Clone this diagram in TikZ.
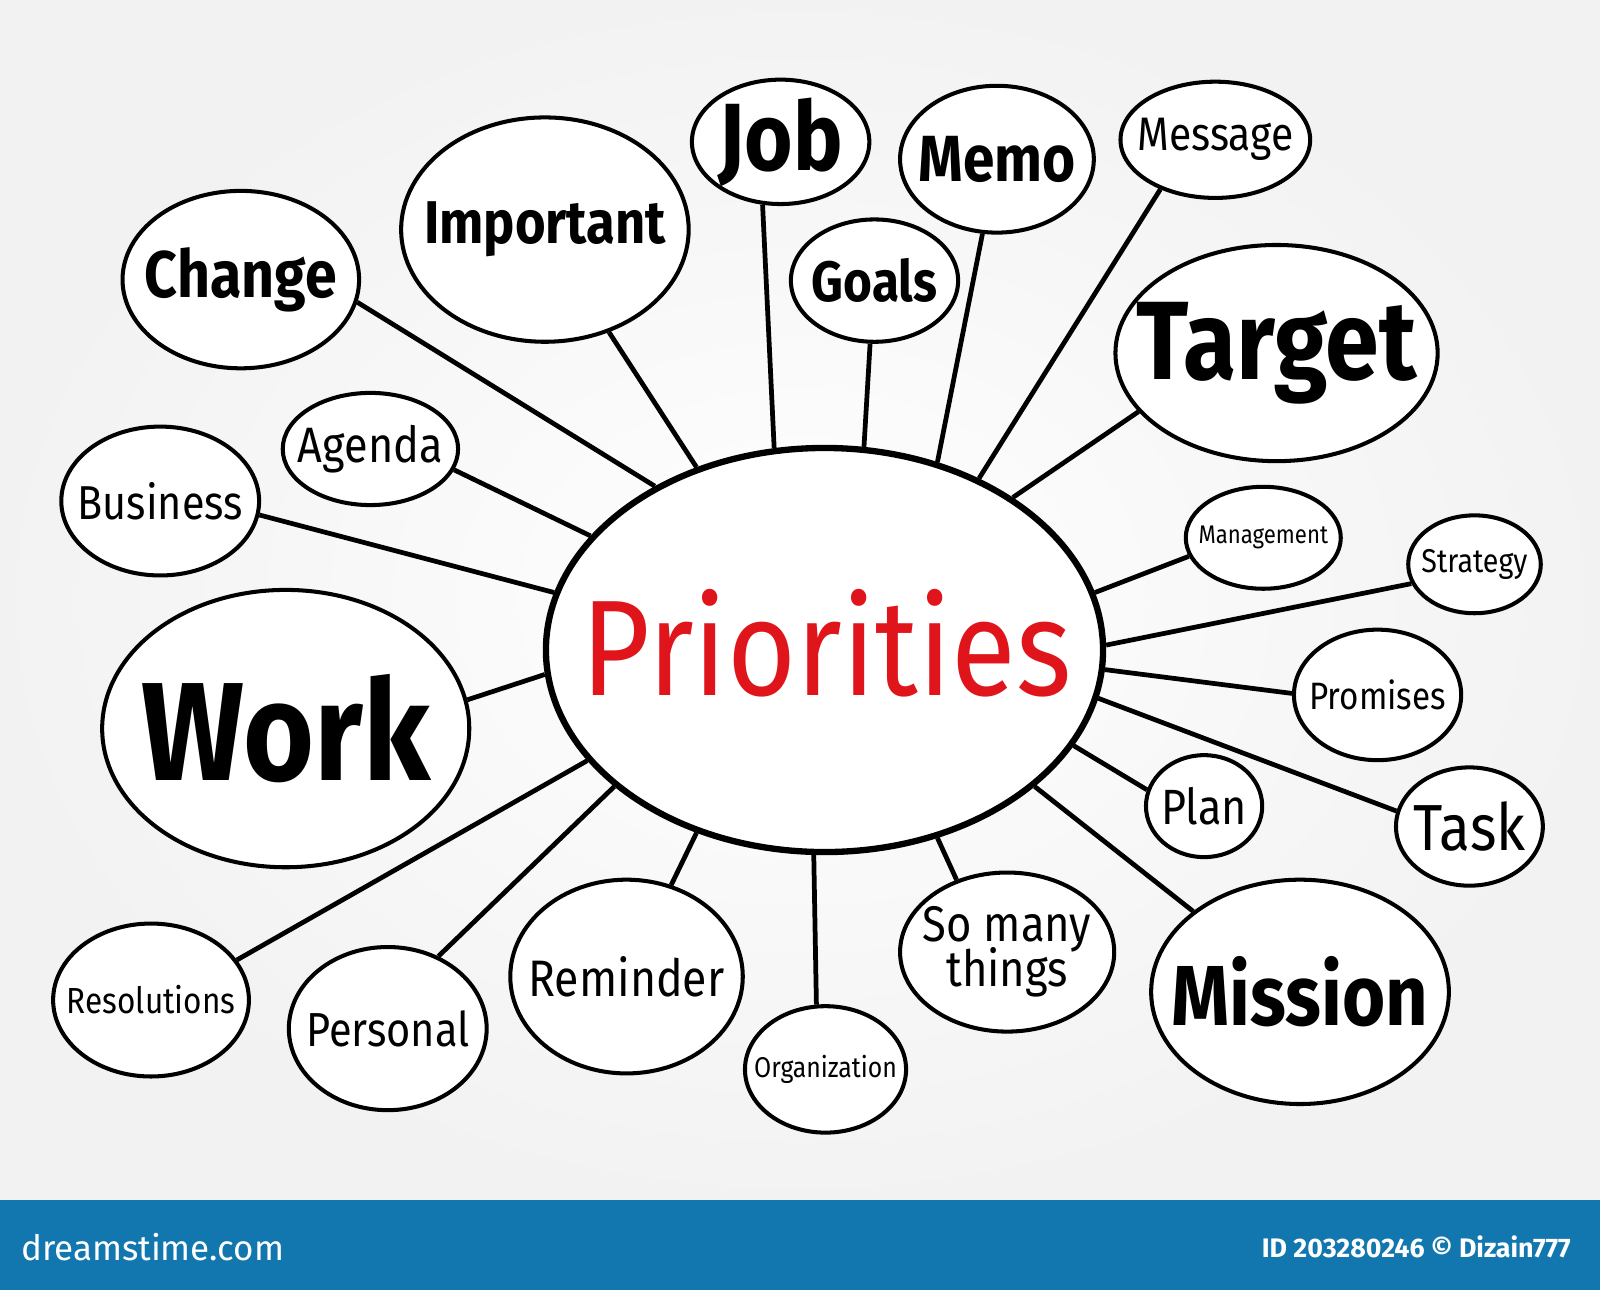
\documentclass[tikz,border=0pt]{standalone}
\usepackage{fontspec}
\setmainfont{Fira Sans}
\usetikzlibrary{shapes.geometric}
\definecolor{prired}{HTML}{E0141B}
\definecolor{barblue}{HTML}{1177AE}
\newcommand\fitw[2]{\scalebox{1}[1.15]{\resizebox{#1}{!}{#2}}}
\newcommand\bub[7]{\node[bubble, minimum width=#4*0.020408cm, minimum height=#5*0.020408cm] (#1) at (#2,#3) {};
  \node[inner sep=0pt] (#1-t) at (#1.center) {\fitw{#6cm}{#7}};}
\tikzset{
  bubble/.style={ellipse, draw=black, line width=1.15pt, fill=white, inner sep=0pt},
  conn/.style={draw=black, line width=1.35pt},
}
\begin{document}
\begin{tikzpicture}[x=0.010204cm, y=-0.010204cm]
\useasboundingbox (0,0) rectangle (1568,1264);
\shade[inner color=white, outer color=black!5] (0,0) rectangle (1568,1176);
\fill[barblue] (0,1176) rectangle (1568,1264);

\node[ellipse, draw=black, line width=1.8pt, fill=white, inner sep=0pt,
      minimum width=546*0.010204cm, minimum height=396*0.010204cm] (P) at (808,637) {};
\node[inner sep=0pt] (P-t) at (810,630) {\color{prired}\fitw{4.898cm}{Priorities}};

\bub{change}{236}{274}{116}{87}{1.918}{\bfseries Change}
\bub{important}{534}{225}{141}{110}{2.418}{\bfseries Important}
\bub{job}{765}{139}{87}{61}{1.245}{\bfseries Job}
\bub{memo}{977}{156}{95}{72}{1.571}{\bfseries Memo}
\bub{message}{1191}{137}{93}{57}{1.561}{Message}
\bub{goals}{857}{275}{82}{60}{1.255}{\bfseries Goals}
\bub{target}{1251}{346}{158}{106}{2.806}{\bfseries Target}
\bub{agenda}{363}{440}{86}{55}{1.449}{Agenda}
\bub{business}{157}{491}{97}{73}{1.653}{Business}
\bub{work}{280}{714}{180}{136}{2.888}{\bfseries Work}
\bub{management}{1238}{527}{76}{50}{1.296}{Management}
\bub{strategy}{1445}{553}{65}{48}{1.061}{Strategy}
\bub{promises}{1350}{681}{82}{64}{1.367}{Promises}
\bub{plan}{1180}{790}{57}{50}{0.857}{Plan}
\bub{task}{1440}{810}{72}{58}{1.122}{Task}
\bub{mission}{1274}{972}{146}{110}{2.571}{\bfseries Mission}
\bub{things}{987}{933}{105}{78}{1.684}{\begin{tabular}{@{}c@{}}So many\\[-3pt]things\end{tabular}}
\bub{organization}{809}{1048}{79}{62}{1.429}{Organization}
\bub{reminder}{614}{957}{114}{95}{1.959}{Reminder}
\bub{personal}{380}{1008}{97}{80}{1.633}{Personal}
\bub{resolutions}{148}{980}{96}{75}{1.684}{Resolutions}

\draw[conn] (P.136) -- (change.-11);
\draw[conn] (P.125.6) -- (important.-58.6);
\draw[conn] (P.104.7) -- (job.254.4);
\draw[conn] (P.79.5) -- (goals.-94.7);
\draw[conn] (P.59.3) -- (memo.-101);
\draw[conn] (P.48) -- (message.-138.7);
\draw[conn] (P.39.5) -- (target.-157);
\draw[conn] (P.12.2) -- (management.-166);
\draw[conn] (P.1.9) -- (strategy.-163.7);
\draw[conn] (P.-4.2) -- (promises.179.3);
\draw[conn] (P.-10.9) -- (task.168.7);
\draw[conn] (P.-21.2) -- (plan.164);
\draw[conn] (P.-33) -- (mission.143.7);
\draw[conn] (P.-59.7) -- (things.125.9);
\draw[conn] (P.-93.7) -- (organization.98);
\draw[conn] (P.-125.7) -- (reminder.64.8);
\draw[conn] (P.-147) -- (personal.55.7);
\draw[conn] (P.-155.6) -- (resolutions.25.8);
\draw[conn] (P.-175.2) -- (work.9.9);
\draw[conn] (P.168) -- (business.-8.3);
\draw[conn] (P.154) -- (agenda.-14.6);

\node[anchor=west, text=white, inner sep=0pt] (brand) at (20,1222) {\resizebox{2.63cm}{!}{dreamstime.com}};
\node[anchor=east, text=white, inner sep=0pt] (credit) at (1540,1222) {\resizebox{3.09cm}{!}{\bfseries ID 203280246 © Dizain777}};
\end{tikzpicture}
\end{document}
